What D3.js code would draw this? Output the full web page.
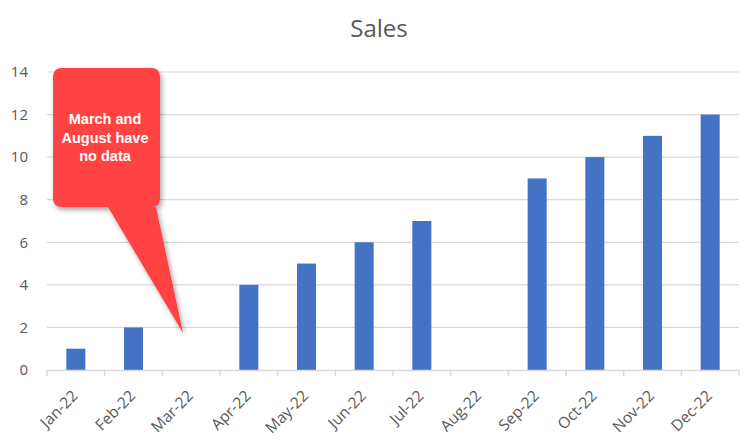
<!DOCTYPE html>
<html><head><meta charset="utf-8">
<script src="https://cdn.jsdelivr.net/npm/d3@7"></script>
<style>body{margin:0;background:#fff}</style>
</head><body>
<svg id="c" width="752" height="448"></svg>
<script>
const categories = ["Jan-22","Feb-22","Mar-22","Apr-22","May-22","Jun-22","Jul-22","Aug-22","Sep-22","Oct-22","Nov-22","Dec-22"];
const sales = [1,2,null,4,5,6,7,null,9,10,11,12];
const yTicks = [0,2,4,6,8,10,12,14];
const titleText = "Sales";
const calloutLines = ["March and","August have","no data"];

const svg = d3.select("#c");
const m = {l:47, r:13, t:72, b:78};
const W = 752, H = 448;
const x = d3.scaleBand().domain(categories).range([m.l, W-m.r]).paddingInner(0.67).paddingOuter(0.335);
const xb = d3.scaleBand().domain(categories).range([m.l, W-m.r]);
const y = d3.scaleLinear().domain([0,14]).range([H-m.b, m.t]);
const font = "'Open Sans', 'Liberation Sans', sans-serif";

svg.append("text").attr("x", 379).attr("y", 37).attr("text-anchor","middle")
  .attr("font-family", font).attr("font-size", 24).attr("fill","#595959").text(titleText);

// grid
svg.append("g").selectAll("line").data(yTicks.filter(d=>d>0)).join("line")
  .attr("x1", m.l).attr("x2", W-m.r).attr("y1", d=>y(d)).attr("y2", d=>y(d))
  .attr("stroke","#d9d9d9").attr("stroke-width",1.2);

// y axis labels
const ya = svg.append("g").attr("transform",`translate(${m.l},0)`)
  .call(d3.axisLeft(y).tickValues(yTicks).tickSize(0).tickPadding(19));
ya.select(".domain").remove();
ya.selectAll("text").attr("font-family", font).attr("font-size", 15).attr("fill","#595959");

// bars
svg.append("g").selectAll("rect").data(categories.map((c,i)=>({c, v:sales[i]})).filter(d=>d.v!=null)).join("rect")
  .attr("x", d=>x(d.c)).attr("width", x.bandwidth())
  .attr("y", d=>y(d.v)).attr("height", d=>y(0)-y(d.v)).attr("fill","#4472C4");

// x axis
const xa = svg.append("g").attr("transform",`translate(0,${y(0)})`)
  .call(d3.axisBottom(xb).tickSize(0));
xa.select(".domain").attr("stroke","#d9d9d9").attr("stroke-width",1.5);
xa.selectAll("text").attr("font-family", font).attr("font-size", 15.5).attr("fill","#595959")
  .attr("text-anchor","end").attr("x",0).attr("y",0).attr("dy","0.35em")
  .attr("transform","translate(-1,23) rotate(-45)");
// boundary ticks
const bounds = categories.map(c=>xb(c)).concat([xb(categories[categories.length-1])+xb.bandwidth()]);
svg.append("g").selectAll("line").data(bounds).join("line")
  .attr("x1", d=>d).attr("x2", d=>d).attr("y1", y(0)).attr("y2", y(0)+6)
  .attr("stroke","#d9d9d9").attr("stroke-width",1.5);

// callout
const defs = svg.append("defs");
const f = defs.append("filter").attr("id","sh").attr("x","-20%").attr("y","-20%").attr("width","150%").attr("height","150%");
f.append("feDropShadow").attr("dx",2).attr("dy",3).attr("stdDeviation",2.5).attr("flood-color","#000").attr("flood-opacity",0.35);
const bx0=53, bx1=160, by0=68, by1=207, r=9;
const tip=[183,333], b1=108, b2=156;
const p = d3.path();
p.moveTo(bx0+r, by0);
p.lineTo(bx1-r, by0); p.quadraticCurveTo(bx1, by0, bx1, by0+r);
p.lineTo(bx1, by1-r); p.quadraticCurveTo(bx1, by1, bx1-r, by1);
p.lineTo(b2, by1); p.lineTo(tip[0], tip[1]); p.lineTo(b1, by1);
p.lineTo(bx0+r, by1); p.quadraticCurveTo(bx0, by1, bx0, by1-r);
p.lineTo(bx0, by0+r); p.quadraticCurveTo(bx0, by0, bx0+r, by0);
p.closePath();
svg.append("path").attr("d", p.toString()).attr("fill","#FF4343").attr("filter","url(#sh)");
svg.append("g").selectAll("text").data(calloutLines).join("text")
  .attr("x", 105).attr("y", (d,i)=>124+i*18.5).attr("text-anchor","middle")
  .attr("font-family","'Liberation Sans', Arial, sans-serif").attr("font-weight","bold")
  .attr("font-size",14.5).attr("fill","#fff").text(d=>d);
</script>
</body></html>
